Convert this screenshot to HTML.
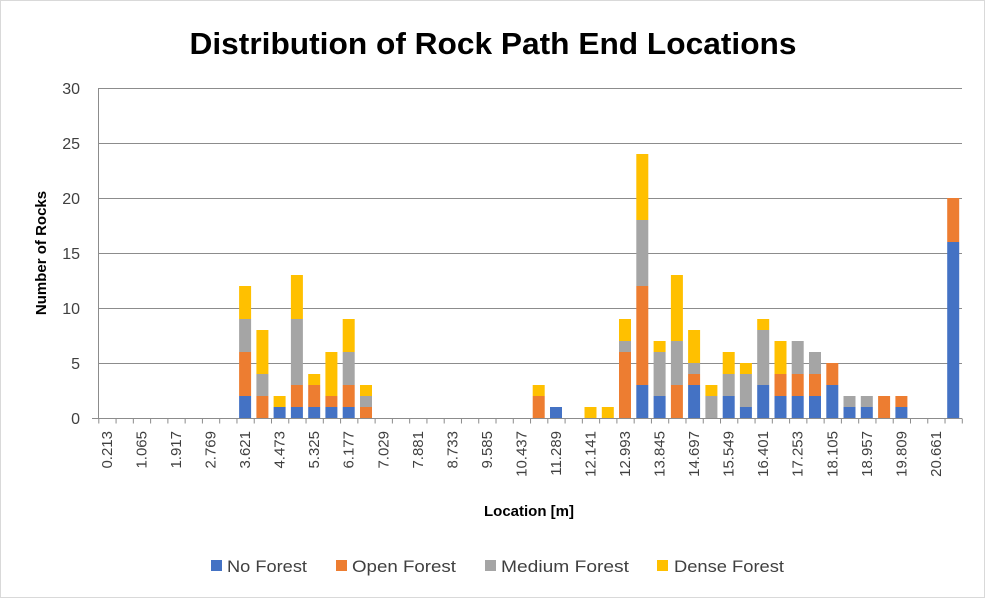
<!DOCTYPE html>
<html><head><meta charset="utf-8"><style>
html,body{margin:0;padding:0;background:#fff}
svg{display:block;font-family:"Liberation Sans",sans-serif}
</style></head><body>
<svg width="985" height="598" viewBox="0 0 985 598" xmlns="http://www.w3.org/2000/svg">
<rect x="0.5" y="0.5" width="984" height="597" fill="#fff" stroke="#d9d9d9"/>
<text x="493" y="54" text-anchor="middle" font-size="31" font-weight="bold" fill="#000" textLength="607" lengthAdjust="spacingAndGlyphs">Distribution of Rock Path End Locations</text>
<g stroke="#8c8c8c" stroke-width="1">
<line x1="98" y1="88.5" x2="962" y2="88.5"/>
<line x1="98" y1="143.5" x2="962" y2="143.5"/>
<line x1="98" y1="198.5" x2="962" y2="198.5"/>
<line x1="98" y1="253.5" x2="962" y2="253.5"/>
<line x1="98" y1="308.5" x2="962" y2="308.5"/>
<line x1="98" y1="363.5" x2="962" y2="363.5"/>
<line x1="92" y1="418.5" x2="962" y2="418.5"/>
<line x1="98.5" y1="88" x2="98.5" y2="418"/>
<line x1="98.3" y1="421" x2="963" y2="421" stroke-width="5" stroke-dasharray="1,16.27"/>
</g>
<g font-size="16" fill="#404040" text-anchor="end">
<text x="80" y="94">30</text><text x="80" y="149">25</text><text x="80" y="204">20</text>
<text x="80" y="259">15</text><text x="80" y="314">10</text><text x="80" y="369">5</text><text x="80" y="424">0</text>
</g>
<text transform="translate(46,253) rotate(-90)" text-anchor="middle" font-size="15" font-weight="bold" fill="#000">Number of Rocks</text>
<text x="529" y="516" text-anchor="middle" font-size="15" font-weight="bold" fill="#000">Location [m]</text>
<g font-size="15" fill="#404040" text-anchor="end">
<text transform="translate(112,431) rotate(-90)">0.213</text>
<text transform="translate(146.5,431) rotate(-90)">1.065</text>
<text transform="translate(181,431) rotate(-90)">1.917</text>
<text transform="translate(215.6,431) rotate(-90)">2.769</text>
<text transform="translate(250.1,431) rotate(-90)">3.621</text>
<text transform="translate(284.6,431) rotate(-90)">4.473</text>
<text transform="translate(319.2,431) rotate(-90)">5.325</text>
<text transform="translate(353.7,431) rotate(-90)">6.177</text>
<text transform="translate(388.3,431) rotate(-90)">7.029</text>
<text transform="translate(422.8,431) rotate(-90)">7.881</text>
<text transform="translate(457.3,431) rotate(-90)">8.733</text>
<text transform="translate(491.9,431) rotate(-90)">9.585</text>
<text transform="translate(526.4,431) rotate(-90)">10.437</text>
<text transform="translate(561,431) rotate(-90)">11.289</text>
<text transform="translate(595.5,431) rotate(-90)">12.141</text>
<text transform="translate(630,431) rotate(-90)">12.993</text>
<text transform="translate(664.6,431) rotate(-90)">13.845</text>
<text transform="translate(699.1,431) rotate(-90)">14.697</text>
<text transform="translate(733.7,431) rotate(-90)">15.549</text>
<text transform="translate(768.2,431) rotate(-90)">16.401</text>
<text transform="translate(802.7,431) rotate(-90)">17.253</text>
<text transform="translate(837.3,431) rotate(-90)">18.105</text>
<text transform="translate(871.8,431) rotate(-90)">18.957</text>
<text transform="translate(906.4,431) rotate(-90)">19.809</text>
<text transform="translate(940.9,431) rotate(-90)">20.661</text>
</g>
<g>
<rect x="239.1" y="396" width="12" height="22" fill="#4472C4"/>
<rect x="239.1" y="352" width="12" height="44" fill="#ED7D31"/>
<rect x="239.1" y="319" width="12" height="33" fill="#A5A5A5"/>
<rect x="239.1" y="286" width="12" height="33" fill="#FFC000"/>
<rect x="256.4" y="396" width="12" height="22" fill="#ED7D31"/>
<rect x="256.4" y="374" width="12" height="22" fill="#A5A5A5"/>
<rect x="256.4" y="330" width="12" height="44" fill="#FFC000"/>
<rect x="273.6" y="407" width="12" height="11" fill="#4472C4"/>
<rect x="273.6" y="396" width="12" height="11" fill="#FFC000"/>
<rect x="290.9" y="407" width="12" height="11" fill="#4472C4"/>
<rect x="290.9" y="385" width="12" height="22" fill="#ED7D31"/>
<rect x="290.9" y="319" width="12" height="66" fill="#A5A5A5"/>
<rect x="290.9" y="275" width="12" height="44" fill="#FFC000"/>
<rect x="308.2" y="407" width="12" height="11" fill="#4472C4"/>
<rect x="308.2" y="385" width="12" height="22" fill="#ED7D31"/>
<rect x="308.2" y="374" width="12" height="11" fill="#FFC000"/>
<rect x="325.4" y="407" width="12" height="11" fill="#4472C4"/>
<rect x="325.4" y="396" width="12" height="11" fill="#ED7D31"/>
<rect x="325.4" y="352" width="12" height="44" fill="#FFC000"/>
<rect x="342.7" y="407" width="12" height="11" fill="#4472C4"/>
<rect x="342.7" y="385" width="12" height="22" fill="#ED7D31"/>
<rect x="342.7" y="352" width="12" height="33" fill="#A5A5A5"/>
<rect x="342.7" y="319" width="12" height="33" fill="#FFC000"/>
<rect x="360" y="407" width="12" height="11" fill="#ED7D31"/>
<rect x="360" y="396" width="12" height="11" fill="#A5A5A5"/>
<rect x="360" y="385" width="12" height="11" fill="#FFC000"/>
<rect x="532.7" y="396" width="12" height="22" fill="#ED7D31"/>
<rect x="532.7" y="385" width="12" height="11" fill="#FFC000"/>
<rect x="550" y="407" width="12" height="11" fill="#4472C4"/>
<rect x="584.5" y="407" width="12" height="11" fill="#FFC000"/>
<rect x="601.8" y="407" width="12" height="11" fill="#FFC000"/>
<rect x="619" y="352" width="12" height="66" fill="#ED7D31"/>
<rect x="619" y="341" width="12" height="11" fill="#A5A5A5"/>
<rect x="619" y="319" width="12" height="22" fill="#FFC000"/>
<rect x="636.3" y="385" width="12" height="33" fill="#4472C4"/>
<rect x="636.3" y="286" width="12" height="99" fill="#ED7D31"/>
<rect x="636.3" y="220" width="12" height="66" fill="#A5A5A5"/>
<rect x="636.3" y="154" width="12" height="66" fill="#FFC000"/>
<rect x="653.6" y="396" width="12" height="22" fill="#4472C4"/>
<rect x="653.6" y="352" width="12" height="44" fill="#A5A5A5"/>
<rect x="653.6" y="341" width="12" height="11" fill="#FFC000"/>
<rect x="670.9" y="385" width="12" height="33" fill="#ED7D31"/>
<rect x="670.9" y="341" width="12" height="44" fill="#A5A5A5"/>
<rect x="670.9" y="275" width="12" height="66" fill="#FFC000"/>
<rect x="688.1" y="385" width="12" height="33" fill="#4472C4"/>
<rect x="688.1" y="374" width="12" height="11" fill="#ED7D31"/>
<rect x="688.1" y="363" width="12" height="11" fill="#A5A5A5"/>
<rect x="688.1" y="330" width="12" height="33" fill="#FFC000"/>
<rect x="705.4" y="396" width="12" height="22" fill="#A5A5A5"/>
<rect x="705.4" y="385" width="12" height="11" fill="#FFC000"/>
<rect x="722.7" y="396" width="12" height="22" fill="#4472C4"/>
<rect x="722.7" y="374" width="12" height="22" fill="#A5A5A5"/>
<rect x="722.7" y="352" width="12" height="22" fill="#FFC000"/>
<rect x="739.9" y="407" width="12" height="11" fill="#4472C4"/>
<rect x="739.9" y="374" width="12" height="33" fill="#A5A5A5"/>
<rect x="739.9" y="363" width="12" height="11" fill="#FFC000"/>
<rect x="757.2" y="385" width="12" height="33" fill="#4472C4"/>
<rect x="757.2" y="330" width="12" height="55" fill="#A5A5A5"/>
<rect x="757.2" y="319" width="12" height="11" fill="#FFC000"/>
<rect x="774.5" y="396" width="12" height="22" fill="#4472C4"/>
<rect x="774.5" y="374" width="12" height="22" fill="#ED7D31"/>
<rect x="774.5" y="341" width="12" height="33" fill="#FFC000"/>
<rect x="791.7" y="396" width="12" height="22" fill="#4472C4"/>
<rect x="791.7" y="374" width="12" height="22" fill="#ED7D31"/>
<rect x="791.7" y="341" width="12" height="33" fill="#A5A5A5"/>
<rect x="809" y="396" width="12" height="22" fill="#4472C4"/>
<rect x="809" y="374" width="12" height="22" fill="#ED7D31"/>
<rect x="809" y="352" width="12" height="22" fill="#A5A5A5"/>
<rect x="826.3" y="385" width="12" height="33" fill="#4472C4"/>
<rect x="826.3" y="363" width="12" height="22" fill="#ED7D31"/>
<rect x="843.5" y="407" width="12" height="11" fill="#4472C4"/>
<rect x="843.5" y="396" width="12" height="11" fill="#A5A5A5"/>
<rect x="860.8" y="407" width="12" height="11" fill="#4472C4"/>
<rect x="860.8" y="396" width="12" height="11" fill="#A5A5A5"/>
<rect x="878.1" y="396" width="12" height="22" fill="#ED7D31"/>
<rect x="895.4" y="407" width="12" height="11" fill="#4472C4"/>
<rect x="895.4" y="396" width="12" height="11" fill="#ED7D31"/>
<rect x="947.2" y="242" width="12" height="176" fill="#4472C4"/>
<rect x="947.2" y="198" width="12" height="44" fill="#ED7D31"/>
</g>
<g font-size="17" fill="#404040">
<rect x="211" y="560" width="11" height="11" fill="#4472C4"/><text x="227" y="572" textLength="80" lengthAdjust="spacingAndGlyphs">No Forest</text>
<rect x="336" y="560" width="11" height="11" fill="#ED7D31"/><text x="352" y="572" textLength="104" lengthAdjust="spacingAndGlyphs">Open Forest</text>
<rect x="485" y="560" width="11" height="11" fill="#A5A5A5"/><text x="501" y="572" textLength="128" lengthAdjust="spacingAndGlyphs">Medium Forest</text>
<rect x="657" y="560" width="11" height="11" fill="#FFC000"/><text x="674" y="572" textLength="110" lengthAdjust="spacingAndGlyphs">Dense Forest</text>
</g>
</svg>
</body></html>
